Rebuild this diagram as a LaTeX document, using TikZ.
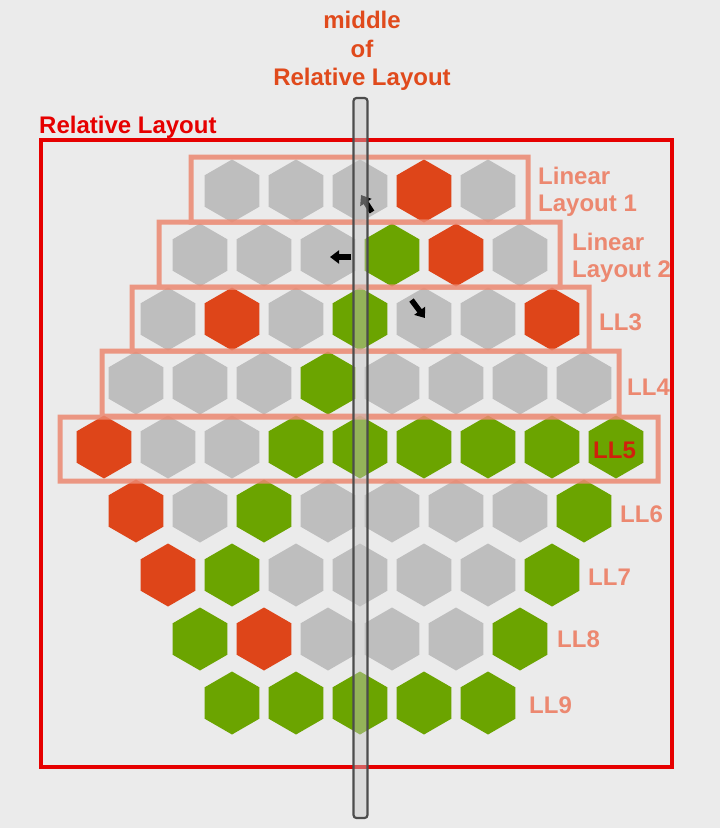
\documentclass[tikz,border=0pt]{standalone}
\usepackage{fontspec}
\setmainfont{Liberation Sans}
\usetikzlibrary{arrows.meta,positioning,shapes.geometric}
\definecolor{bgcol}{HTML}{EBEBEB}
\definecolor{cgray}{HTML}{BEBEBE}
\definecolor{cred}{HTML}{DE4519}
\definecolor{cgreen}{HTML}{6BA400}
\definecolor{salmon}{HTML}{EC8870}
\definecolor{rlred}{HTML}{E60000}
\definecolor{titlered}{HTML}{E04A1C}
\definecolor{llfive}{HTML}{D0200C}

\begin{document}
\begin{tikzpicture}[x=1pt, y=-1pt,
    hexcell/.style={regular polygon, regular polygon sides=6, shape border rotate=30, minimum size=63pt, inner sep=0pt},
    llbox/.style={rectangle, draw=salmon, line width=5pt, inner sep=0pt},
    lbl/.style={inner sep=0pt, font=\fontsize{24}{27.5}\selectfont\bfseries, align=left},
    cursor/.style={-{Triangle[length=9pt,width=13pt]}, line width=5.5pt, black},
    midbar/.style={rectangle, rounded corners=3pt, draw=black!70, line width=2.2pt, fill=gray!45, fill opacity=0.45, minimum width=14pt, minimum height=720pt, inner sep=0pt},
]
    \useasboundingbox (0,0) rectangle (720,828);
    \fill[bgcol] (0,0) rectangle (720,828);
    \draw[rlred, line width=4.5pt] (41,140) rectangle (672,767);
    \node[lbl, text=rlred, anchor=base west] (rltext) at (39,133) {Relative Layout};
    \node[lbl, text=titlered, align=center, anchor=north, font=\fontsize{24}{28.5}\selectfont\bfseries] (title) at (362,11) {middle\\of\\Relative Layout};

    \foreach \r/\n/\cols in {1/5/{cgray,cgray,cgray,cred,cgray},
                             2/6/{cgray,cgray,cgray,cgreen,cred,cgray},
                             3/7/{cgray,cred,cgray,cgreen,cgray,cgray,cred},
                             4/8/{cgray,cgray,cgray,cgreen,cgray,cgray,cgray,cgray},
                             5/9/{cred,cgray,cgray,cgreen,cgreen,cgreen,cgreen,cgreen,cgreen},
                             6/8/{cred,cgray,cgreen,cgray,cgray,cgray,cgray,cgreen},
                             7/7/{cred,cgreen,cgray,cgray,cgray,cgray,cgreen},
                             8/6/{cgreen,cred,cgray,cgray,cgray,cgreen},
                             9/5/{cgreen,cgreen,cgreen,cgreen,cgreen}}
        \foreach \c [count=\i] in \cols
            \node[hexcell, fill=\c] (h\r-\i) at ({360+64*(\i-(\n+1)/2)}, {191+64*(\r-1)}) {};

    \begin{scope}[transparency group, opacity=0.85]
        \node[llbox, minimum width=337pt, minimum height=65pt] (ll1) at (359.5,189.5) {};
        \node[llbox, minimum width=401pt, minimum height=65pt] (ll2) at (359.5,254.5) {};
        \node[llbox, minimum width=457pt, minimum height=64pt] (ll3) at (360.5,319) {};
        \node[llbox, minimum width=517pt, minimum height=65pt] (ll4) at (360.5,383.5) {};
        \node[llbox, minimum width=598pt, minimum height=64pt] (ll5) at (359,449) {};
    \end{scope}

    \node[lbl, text=salmon, anchor=north west] (ll1text) at (538,166.5) {Linear\\Layout 1};
    \node[lbl, text=salmon, anchor=north west] (ll2text) at (572,232.5) {Linear\\Layout 2};
    \node[lbl, text=salmon, anchor=base west] (ll3text) at (599,330) {LL3};
    \node[lbl, text=salmon, anchor=base west] (ll4text) at (627,395) {LL4};
    \node[lbl, text=llfive, anchor=base west] (ll5text) at (593,458) {LL5};
    \node[lbl, text=salmon, anchor=base west] (ll6text) at (620,522) {LL6};
    \node[lbl, text=salmon, anchor=base west] (ll7text) at (588,585) {LL7};
    \node[lbl, text=salmon, anchor=base west] (ll8text) at (557,647) {LL8};
    \node[lbl, text=salmon, anchor=base west] (ll9text) at (529,713) {LL9};

    \coordinate (cur1a) at (372,212);
    \coordinate (cur1b) at (361,195);
    \coordinate (cur2a) at (351,257);
    \coordinate (cur2b) at (330,257);
    \coordinate (cur3a) at (411.5,300);
    \coordinate (cur3b) at (425,318);
    \draw[cursor] (cur1a) -- (cur1b);
    \draw[cursor] (cur2a) -- (cur2b);
    \draw[cursor] (cur3a) -- (cur3b);

    \node[midbar] (bar) at (360.5,458) {};
\end{tikzpicture}
\end{document}
